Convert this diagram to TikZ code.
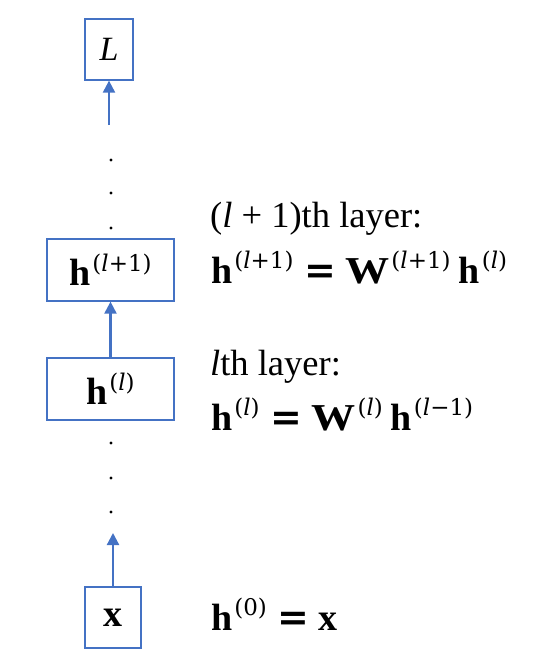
\documentclass[tikz,border=0pt]{standalone}
\usepackage{fontspec}
\setmainfont{Liberation Serif}
\newfontfamily\supfont{DejaVu Serif}
\usetikzlibrary{arrows.meta}
\definecolor{obl}{HTML}{4472C4}
\newcommand{\mysup}[1]{\hspace{2pt}\raisebox{0.37em}{\supfont\fontsize{23}{23}\selectfont\mdseries(#1)}}
\newcommand{\mysupx}[1]{\mysup{#1}\hspace{6pt}}
\newcommand{\mysupy}[1]{\mysup{#1}\hspace{8pt}}
\newcommand{\myl}{\textit{l}}
\newcommand{\myeq}{\hspace{5pt}{\supfont\bfseries=}\hspace{9pt}}
\newcommand{\myW}{\scalebox{1.16}[1]{W}}
\newcommand{\eqsize}{\fontsize{38}{38}\selectfont\bfseries}
\newcommand{\txtsize}{\fontsize{36.5}{36.5}\selectfont}
\begin{document}
\begin{tikzpicture}[x=1pt,y=-1pt,
  box/.style={draw=obl, line width=1.3pt, inner sep=0pt, fill=white},
  arr/.style={draw=obl, line width=2.2pt, -{Triangle[width=12pt,length=12pt]}},
  lab/.style={anchor=base west, inner sep=0pt},
  dot/.style={fill=black}]
\useasboundingbox (0,0) rectangle (535,661);
% boxes
\node[box, minimum width=48pt, minimum height=61pt] (L) at (109,49.5) {\fontsize{34}{34}\selectfont\textit{L}};
\node[box, minimum width=127pt, minimum height=62pt] (h1) at (110.5,270) {\eqsize h\mysup{\myl+1}};
\node[box, minimum width=127pt, minimum height=62pt] (h0) at (110.5,389) {\eqsize h\mysup{\myl}};
\node[box, minimum width=56pt, minimum height=61pt] (x) at (113,617.5) {\eqsize x};
% arrows
\coordinate (a1) at (109,125);
\coordinate (a2) at (113,533);
\draw[arr] (a1) -- (L.south);
\draw[arr] (h0.north) -- (h1.south);
\draw[arr] (x.north) -- (a2);
% dots
\foreach \yy in {160,193,228,443,478,512} \fill[dot] (111,\yy) circle (1.7pt);
% labels
\node[lab] (t1) at (210,227) {\txtsize(\myl\ + 1)th layer:};
\node[lab] (e1) at (211,283) {\eqsize h\mysupx{\myl+1}\myeq\myW\mysupy{\myl+1}h\mysup{\myl}};
\node[lab] (t2) at (210,375) {\txtsize\myl th layer:};
\node[lab] (e2) at (211,430) {\eqsize h\mysupx{\myl}\myeq\myW\mysupy{\myl}h\mysup{\myl\textminus1}};
\node[lab] (e3) at (211,630) {\eqsize h\mysupx{0}\myeq x};
\end{tikzpicture}
\end{document}
